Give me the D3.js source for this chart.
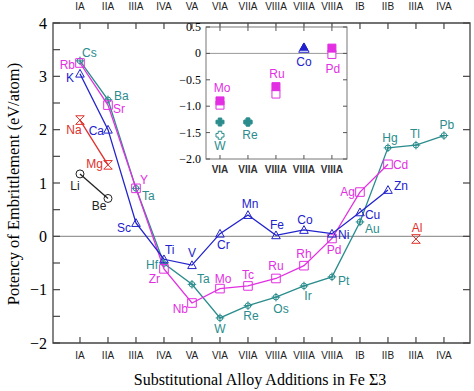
<!DOCTYPE html>
<html>
<head>
<meta charset="utf-8">
<script src="https://cdn.jsdelivr.net/npm/d3@7"></script>
<style>
  body { margin: 0; background: #fff; }
  svg { display: block; }
</style>
</head>
<body>
<div id="chart"></div>
<script>
// column groups along the x axis
const groups = ['IA', 'IIA', 'IIIA', 'IVA', 'VA', 'VIA', 'VIIA', 'VIIIA', 'VIIIA', 'VIIIA', 'IB', 'IIB', 'IIIA', 'IVA'];

// blue triangles (3d row)
const blueElems = ['K', 'Ca', 'Sc', 'Ti', 'V', 'Cr', 'Mn', 'Fe', 'Co', 'Ni', 'Cu', 'Zn'];
const blueCols = [0, 1, 2, 3, 4, 5, 6, 7, 8, 9, 10, 11];
const blueVals = [3.05, 2.0, 0.25, -0.43, -0.54, 0.05, 0.4, 0.02, 0.12, 0.05, 0.45, 0.87];

// magenta squares (4d row)
const magElems = ['Rb', 'Sr', 'Y', 'Zr', 'Nb', 'Mo', 'Tc', 'Ru', 'Rh', 'Pd', 'Ag', 'Cd'];
const magCols = [0, 1, 2, 3, 4, 5, 6, 7, 8, 9, 10, 11];
const magVals = [3.25, 2.46, 0.9, -0.61, -1.25, -0.98, -0.93, -0.79, -0.55, -0.04, 0.83, 1.35];

// teal crossed circles (5d row)
const tealElems = ['Cs', 'Ba', 'Ta', 'Hf', 'Ta', 'W', 'Re', 'Os', 'Ir', 'Pt', 'Au', 'Hg', 'Tl', 'Pb'];
const tealCols = [0, 1, 2, 3, 4, 5, 6, 7, 8, 9, 10, 11, 12, 13];
const tealVals = [3.29, 2.56, 0.9, -0.51, -0.9, -1.53, -1.3, -1.14, -0.93, -0.76, 0.27, 1.66, 1.71, 1.89];

// red hourglasses
const redElems = ['Na', 'Mg'];
const redCols = [0, 1];
const redVals = [2.18, 1.34];
const alCol = 12;
const alVal = -0.05;

// black circles
const blackElems = ['Li', 'Be'];
const blackCols = [0, 1];
const blackVals = [1.17, 0.71];

// inset: filled = other calculation, open = main values
const insetElems = ['Mo', 'W', 'Re', 'Ru', 'Co', 'Pd'];
const insetCols = [5, 5, 6, 7, 8, 9];
const insetFilled = [-0.9, -1.3, -1.3, -0.63, 0.12, 0.1];
const insetOpen = [-0.98, -1.55, -1.3, -0.77, 0.1, -0.02];
const insetShapes = ['square', 'plus', 'plus', 'square', 'triangle', 'square'];

const yTicks = [4, 3, 2, 1, 0, -1, -2];
const insetYTicks = ['0.5', '0', '-0.5', '-1.0', '-1.5', '-2.0'];

const W = 474, H = 391;
const C = { blue: '#2222cc', mag: '#e22fe2', teal: '#2a8c8c', red: '#e0302a', black: '#222' };

const svg = d3.select('#chart').append('svg')
  .attr('width', W).attr('height', H);

const x = d3.scaleLinear().domain([-0.964, 13.93]).range([53, 470]);
const y = d3.scaleLinear().domain([-2, 4]).range([343, 23]);

const fmt = v => String(v).replace('-', '\u2212');

// frame
const frame = '#444';
svg.append('line').attr('x1', 53).attr('x2', 470).attr('y1', y(0)).attr('y2', y(0))
  .attr('stroke', '#999').attr('stroke-width', 1.2);
svg.append('path')
  .attr('d', `M53,23H470V343H53Z`)
  .attr('fill', 'none').attr('stroke', frame).attr('stroke-width', 1.3);

// y ticks, every 0.5 on the left, integers on the right
d3.range(-2, 4.01, 0.5).forEach(v => {
  svg.append('line').attr('x1', 53).attr('x2', 60).attr('y1', y(v)).attr('y2', y(v))
    .attr('stroke', frame).attr('stroke-width', 1.2);
});
yTicks.forEach(v => {
  svg.append('line').attr('x1', 463).attr('x2', 470).attr('y1', y(v)).attr('y2', y(v))
    .attr('stroke', frame).attr('stroke-width', 1.2);
  svg.append('text').attr('x', 47).attr('y', y(v) + 5.5)
    .attr('text-anchor', 'end')
    .attr('font-family', 'Liberation Serif, Times New Roman, serif')
    .attr('font-size', 16).text(fmt(v));
});

// x ticks top and bottom, labels both sides
groups.forEach((g, i) => {
  svg.append('line').attr('x1', x(i)).attr('x2', x(i)).attr('y1', 23).attr('y2', 29)
    .attr('stroke', frame).attr('stroke-width', 1.2);
  svg.append('line').attr('x1', x(i)).attr('x2', x(i)).attr('y1', 337).attr('y2', 343)
    .attr('stroke', frame).attr('stroke-width', 1.2);
  [10, 359].forEach(ty => {
    svg.append('text').attr('x', x(i)).attr('y', ty)
      .attr('text-anchor', 'middle')
      .attr('font-family', 'Liberation Sans, Arial, sans-serif')
      .attr('font-size', 10).attr('fill', '#222').text(g);
  });
});

svg.append('text').attr('x', 260).attr('y', 385)
  .attr('text-anchor', 'middle')
  .attr('font-family', 'Liberation Serif, Times New Roman, serif')
  .attr('font-size', 16).text('Substitutional Alloy Additions in Fe \u03A33');

svg.append('text')
  .attr('transform', 'translate(19,184) rotate(-90)')
  .attr('text-anchor', 'middle')
  .attr('font-family', 'Liberation Serif, Times New Roman, serif')
  .attr('font-size', 16.5).text('Potency of Embrittlement (eV/atom)');

// marker shapes
function shapePath(type, s) {
  if (type === 'triangle') return `M0,${-s}L${s},${s * 0.8}L${-s},${s * 0.8}Z`;
  if (type === 'square') return `M${-s},${-s}H${s}V${s}H${-s}Z`;
  if (type === 'hourglass') return `M${-s},${-s}H${s}L${-s},${s}H${s}Z`;
  if (type === 'plus') {
    const a = s * 0.45;
    return `M${-a},${-s}H${a}V${-a}H${s}V${a}H${a}V${s}H${-a}V${a}H${-s}V${-a}H${-a}Z`;
  }
  return '';
}

function marker(g, type, cx, cy, color, opts = {}) {
  const s = opts.size || 4.3;
  if (type === 'circle') {
    g.append('circle').attr('cx', cx).attr('cy', cy).attr('r', 4)
      .attr('fill', 'none').attr('stroke', color).attr('stroke-width', 1);
  } else if (type === 'crosscircle') {
    g.append('circle').attr('cx', cx).attr('cy', cy).attr('r', 2.8)
      .attr('fill', 'none').attr('stroke', color).attr('stroke-width', 1);
    g.append('path').attr('d', `M${cx - 4.3},${cy}H${cx + 4.3}M${cx},${cy - 4.3}V${cy + 4.3}`)
      .attr('stroke', color).attr('stroke-width', 1);
  } else {
    g.append('path').attr('d', shapePath(type, s))
      .attr('transform', `translate(${cx},${cy})`)
      .attr('fill', opts.fill || 'none')
      .attr('stroke', opts.stroke || color).attr('stroke-width', 1);
  }
}

// label offsets [dx, dy, anchor]
const labelPos = {
  K: [-6, 8, 'end'], Ca: [-4, 5, 'end'], Sc: [-5, 9, 'end'], Ti: [1, -5, 'start'],
  V: [0, -8, 'middle'], Cr: [-3, 15, 'start'], Mn: [2, -7, 'middle'], Fe: [1, -6, 'middle'],
  Co: [1, -6, 'middle'], Ni: [6, 5, 'start'], Cu: [5, 7, 'start'], Zn: [6, 0, 'start'],
  Rb: [-5, 6, 'end'], Sr: [5, 8, 'start'], Y: [4, -4, 'start'], Zr: [-4, 14, 'end'],
  Nb: [-4, 10, 'end'], Mo: [3, -6, 'middle'], Tc: [0, -7, 'middle'], Ru: [0, -8, 'middle'],
  Rh: [0, -8, 'middle'], Pd: [2, 16, 'middle'], Ag: [-5, 4, 'end'], Cd: [5, 5, 'start'],
  Cs: [2, -4, 'start'], Ba: [6, 0, 'start'], Ta2: [6, 12, 'start'], Hf: [-6, 5, 'end'],
  Ta4: [5, -1, 'start'], W: [0, 15, 'middle'], Re: [3, 14, 'middle'], Os: [5, 16, 'middle'],
  Ir: [4, 14, 'middle'], Pt: [6, 8, 'start'], Au: [5, 11, 'start'], Hg: [2, -6, 'middle'],
  Tl: [-1, -7, 'middle'], Pb: [3, -7, 'middle'],
  Na: [-6, 14, 'middle'], Mg: [-5, 3, 'end'], Al: [1, -7, 'middle'],
  Li: [-5, 16, 'middle'], Be: [-9, 12, 'middle']
};

function label(g, name, key, cx, cy, color, size = 12) {
  const p = labelPos[key] || [0, -8, 'middle'];
  g.append('text').attr('x', cx + p[0]).attr('y', cy + p[1])
    .attr('text-anchor', p[2])
    .attr('font-family', 'Liberation Sans, Arial, sans-serif')
    .attr('font-size', size).attr('fill', color).text(name);
}

const plot = svg.append('g');
const line = d3.line().x(d => x(d[0])).y(d => y(d[1]));

function series(elems, cols, vals, color, type, connect = true) {
  const pts = cols.map((c, i) => [c, vals[i]]);
  if (connect) {
    plot.append('path').datum(pts).attr('d', line)
      .attr('fill', 'none').attr('stroke', color).attr('stroke-width', 1.3);
  }
  pts.forEach((p, i) => {
    marker(plot, type, x(p[0]), y(p[1]), color);
    const key = elems[i] === 'Ta' ? 'Ta' + cols[i] : elems[i];
    label(plot, elems[i], key, x(p[0]), y(p[1]), color);
  });
}

series(blackElems, blackCols, blackVals, C.black, 'circle');
series(redElems, redCols, redVals, C.red, 'hourglass');
series(['Al'], [alCol], [alVal], C.red, 'hourglass', false);
series(tealElems, tealCols, tealVals, C.teal, 'crosscircle');
series(magElems, magCols, magVals, C.mag, 'square');
series(blueElems, blueCols, blueVals, C.blue, 'triangle');

// inset
const ix = d3.scaleLinear().domain([4.5, 9.54]).range([206, 347]);
const iy = d3.scaleLinear().domain([-2, 0.5]).range([159, 27]);
const inset = svg.append('g');
inset.append('rect').attr('x', 206).attr('y', 27).attr('width', 141).attr('height', 132)
  .attr('fill', '#fff').attr('stroke', '#777').attr('stroke-width', 1);
inset.append('line').attr('x1', 206).attr('x2', 347).attr('y1', iy(0)).attr('y2', iy(0))
  .attr('stroke', '#999').attr('stroke-width', 1);
d3.range(5, 10).forEach(c => {
  inset.append('line').attr('x1', ix(c)).attr('x2', ix(c)).attr('y1', 27).attr('y2', 31)
    .attr('stroke', '#555');
  inset.append('line').attr('x1', ix(c)).attr('x2', ix(c)).attr('y1', 155).attr('y2', 159)
    .attr('stroke', '#555');
  inset.append('text').attr('x', ix(c)).attr('y', 173)
    .attr('text-anchor', 'middle')
    .attr('font-family', 'Liberation Sans, Arial, sans-serif')
    .attr('font-size', 10).attr('font-weight', 'bold').attr('fill', '#333')
    .text(groups[c]);
});
insetYTicks.forEach(t => {
  const v = +t;
  inset.append('line').attr('x1', 206).attr('x2', 210).attr('y1', iy(v)).attr('y2', iy(v))
    .attr('stroke', '#555');
  inset.append('line').attr('x1', 343).attr('x2', 347).attr('y1', iy(v)).attr('y2', iy(v))
    .attr('stroke', '#555');
  inset.append('text').attr('x', 201).attr('y', iy(v) + 4)
    .attr('text-anchor', 'end')
    .attr('font-family', 'Liberation Serif, Times New Roman, serif')
    .attr('font-size', 12)
    .text(fmt(t));
});

const insetColor = { Mo: C.mag, W: C.teal, Re: C.teal, Ru: C.mag, Co: C.blue, Pd: C.mag };
const insetLabel = {
  Mo: [2, -9, 'filled'], W: [0, 15, 'open'], Re: [2, 17, 'filled'],
  Ru: [1, -9, 'filled'], Co: [0, 19, 'filled'], Pd: [1, 19, 'open']
};
insetElems.forEach((el, i) => {
  const cx = ix(insetCols[i]);
  const col = insetColor[el];
  const t = insetShapes[i];
  marker(inset, t, cx, iy(insetOpen[i]), col,
    { fill: '#fff', size: t === 'triangle' ? 5.2 : 4 });
  marker(inset, t, cx, iy(insetFilled[i]), col,
    { fill: col, stroke: col, size: 4 });
  const lp = insetLabel[el];
  const base = lp[2] === 'open' ? iy(insetOpen[i]) : iy(insetFilled[i]);
  inset.append('text').attr('x', cx + lp[0]).attr('y', base + lp[1])
    .attr('text-anchor', 'middle')
    .attr('font-family', 'Liberation Sans, Arial, sans-serif')
    .attr('font-size', 12).attr('fill', col).text(el);
});
</script>
</body>
</html>
